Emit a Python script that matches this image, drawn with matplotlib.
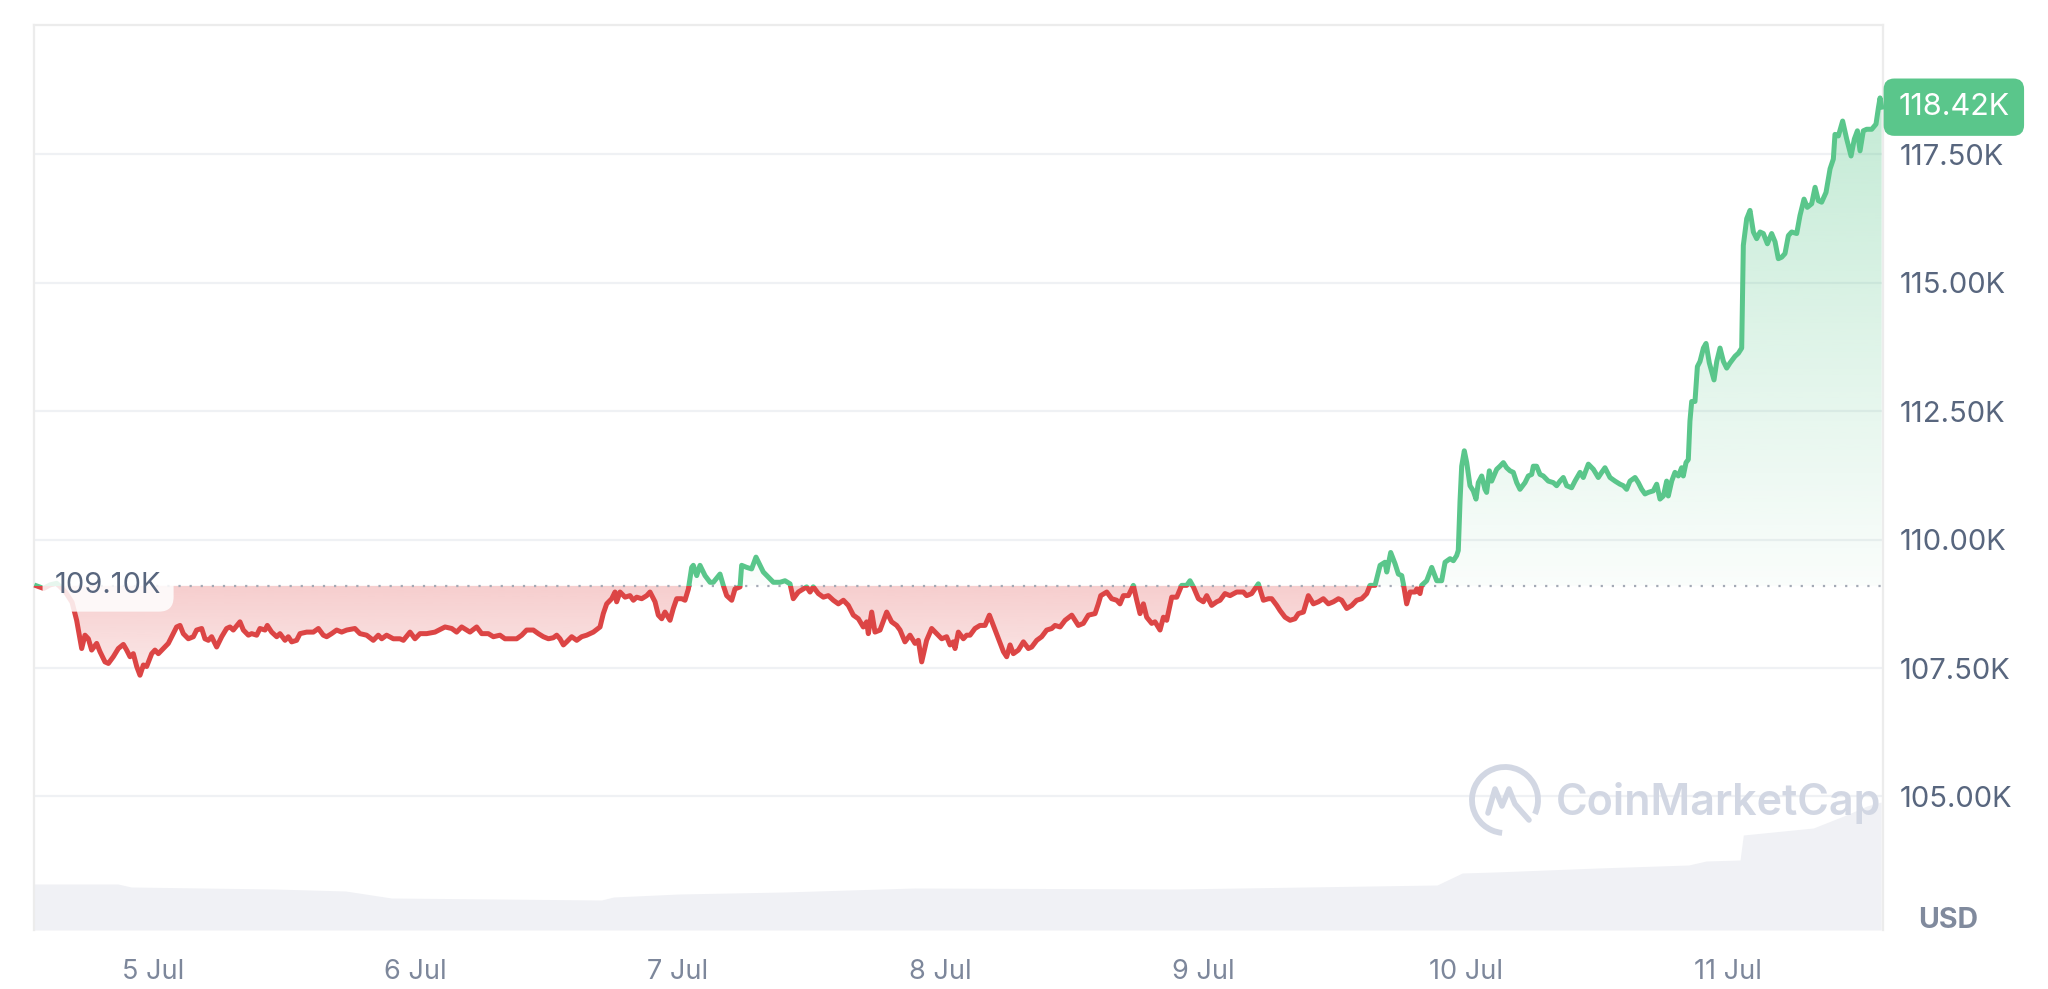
import numpy as np
import matplotlib.pyplot as plt
from matplotlib.colors import to_rgb
from matplotlib.patches import Rectangle, Arc
from matplotlib.path import Path
from matplotlib.transforms import Affine2D, blended_transform_factory

plt.rcParams['font.family'] = ['Inter', 'DejaVu Sans']

# --- data: hours after 5 Jul 00:00, BTC price in thousands USD ---
price_points = [
    (-10.64, 109.10), (-10.0, 109.05), (-9.4, 109.12), (-8.8, 109.15), (-8.0, 108.98),
    (-7.4, 108.78), (-6.98, 108.43), (-6.52, 107.88),
    # 5 Jul
    (-6.22, 108.14), (-5.91, 108.07), (-5.61, 107.85), (-5.15, 107.98), (-4.85, 107.82),
    (-4.39, 107.62), (-4.08, 107.59), (-3.63, 107.72), (-3.17, 107.88), (-2.71, 107.96),
    (-2.41, 107.85), (-2.10, 107.72), (-1.80, 107.78), (-1.49, 107.53), (-1.19, 107.36),
    (-0.88, 107.56), (-0.58, 107.53), (-0.12, 107.78), (0.18, 107.85), (0.49, 107.78),
    (0.94, 107.88), (1.40, 107.98), (1.71, 108.11), (2.16, 108.30), (2.47, 108.33),
    (2.77, 108.17), (3.23, 108.07), (3.69, 108.11), (3.99, 108.24), (4.45, 108.27),
    (4.75, 108.07), (5.06, 108.04), (5.36, 108.11), (5.82, 107.91), (6.28, 108.11),
    (6.73, 108.27), (7.04, 108.30), (7.34, 108.24), (7.95, 108.40), (8.26, 108.24),
    (8.72, 108.14), (9.02, 108.17), (9.48, 108.14), (9.78, 108.27), (10.24, 108.24),
    (10.45, 108.33), (10.85, 108.20), (11.31, 108.11), (11.61, 108.17), (12.07, 108.04),
    (12.37, 108.11), (12.68, 108.01), (13.13, 108.04), (13.44, 108.17), (14.05, 108.20),
    (14.66, 108.20), (15.12, 108.27), (15.57, 108.14), (15.88, 108.11), (16.33, 108.17),
    (16.79, 108.24), (17.25, 108.20), (17.71, 108.24), (18.46, 108.27), (18.92, 108.17),
    (19.53, 108.14), (20.14, 108.04), (20.60, 108.14), (20.91, 108.07), (21.36, 108.14),
    (21.97, 108.07), (22.58, 108.07), (22.89, 108.04), (23.50, 108.20), (23.95, 108.07),
    # 6 Jul
    (24.41, 108.17), (25.02, 108.17), (25.78, 108.20), (26.70, 108.30), (27.31, 108.27),
    (27.76, 108.20), (28.22, 108.30), (28.98, 108.20), (29.59, 108.30), (30.05, 108.17),
    (30.66, 108.17), (31.12, 108.11), (31.72, 108.14), (32.18, 108.07), (32.64, 108.07),
    (33.25, 108.07), (33.71, 108.14), (34.16, 108.24), (34.77, 108.24), (35.23, 108.17),
    (35.69, 108.11), (36.15, 108.07), (36.60, 108.09), (36.91, 108.14), (37.21, 108.07),
    (37.52, 107.95), (37.82, 108.01), (38.28, 108.11), (38.74, 108.04), (39.19, 108.11),
    (39.65, 108.14), (40.26, 108.20), (40.87, 108.30), (41.17, 108.56), (41.48, 108.75),
    (41.94, 108.85), (42.24, 108.98), (42.39, 108.79), (42.70, 108.98), (43.16, 108.88),
    (43.61, 108.91), (43.92, 108.82), (44.22, 108.88), (44.68, 108.85), (45.14, 108.91),
    (45.44, 108.98), (45.90, 108.79), (46.20, 108.53), (46.51, 108.46), (46.81, 108.59),
    (47.27, 108.43), (47.57, 108.66), (47.88, 108.85),
    # 7 Jul
    (48.34, 108.85), (48.64, 108.82), (48.95, 109.04), (49.25, 109.46), (49.40, 109.50),
    (49.71, 109.30), (50.01, 109.50), (50.47, 109.30), (50.93, 109.17), (51.23, 109.17),
    (51.84, 109.33), (52.14, 109.11), (52.45, 108.91), (52.91, 108.82), (53.21, 109.04),
    (53.67, 109.08), (53.82, 109.50), (54.28, 109.46), (54.73, 109.43), (55.13, 109.66),
    (55.50, 109.50), (55.80, 109.37), (56.26, 109.27), (56.72, 109.17), (57.33, 109.17),
    (57.78, 109.20), (58.24, 109.14), (58.54, 108.85), (59.00, 108.98), (59.46, 109.04),
    (59.76, 109.08), (60.07, 108.98), (60.37, 109.08), (60.83, 108.95), (61.29, 108.88),
    (61.74, 108.91), (62.20, 108.82), (62.66, 108.75), (63.12, 108.82), (63.57, 108.72),
    (64.03, 108.53), (64.49, 108.46), (64.94, 108.30), (65.25, 108.40), (65.40, 108.17),
    (65.71, 108.59), (66.01, 108.20), (66.47, 108.24), (67.08, 108.59), (67.53, 108.40),
    (67.99, 108.33), (68.30, 108.24), (68.75, 108.01), (69.21, 108.14), (69.67, 107.98),
    (69.97, 108.04), (70.28, 107.62), (70.73, 108.04), (71.19, 108.27),
    # 8 Jul
    (71.65, 108.17), (72.11, 108.07), (72.56, 108.11), (72.87, 107.95), (73.17, 108.01),
    (73.33, 107.88), (73.63, 108.20), (74.09, 108.07), (74.39, 108.14), (74.70, 108.14),
    (75.15, 108.27), (75.61, 108.33), (76.07, 108.33), (76.47, 108.53), (76.83, 108.33),
    (77.29, 108.07), (77.75, 107.82), (78.05, 107.72), (78.36, 107.95), (78.66, 107.78),
    (79.12, 107.85), (79.58, 108.01), (80.03, 107.88), (80.34, 107.91), (80.80, 108.04),
    (81.25, 108.11), (81.71, 108.24), (82.17, 108.27), (82.47, 108.33), (82.93, 108.30),
    (83.39, 108.43), (84.00, 108.53), (84.60, 108.33), (85.06, 108.37), (85.52, 108.53),
    (86.13, 108.56), (86.43, 108.75), (86.65, 108.91), (87.20, 108.98), (87.65, 108.85),
    (88.11, 108.82), (88.41, 108.75), (88.72, 108.91), (89.18, 108.91), (89.63, 109.11),
    (89.94, 108.82), (90.24, 108.56), (90.55, 108.75), (90.85, 108.49), (91.31, 108.37),
    (91.61, 108.40), (92.07, 108.24), (92.38, 108.49), (92.68, 108.43), (93.14, 108.88),
    (93.60, 108.88), (94.05, 109.11), (94.51, 109.11), (94.81, 109.20), (95.12, 109.08),
    (95.58, 108.85),
    # 9 Jul
    (96.03, 108.79), (96.34, 108.91), (96.79, 108.72), (97.25, 108.79), (97.56, 108.82),
    (98.01, 108.95), (98.47, 108.91), (99.08, 108.98), (99.69, 108.98), (99.99, 108.91),
    (100.45, 108.95), (101.06, 109.14), (101.52, 108.82), (101.98, 108.85), (102.28, 108.85),
    (102.74, 108.72), (103.04, 108.62), (103.50, 108.49), (103.96, 108.43), (104.41, 108.46),
    (104.72, 108.56), (105.18, 108.59), (105.63, 108.91), (106.09, 108.75), (106.55, 108.79),
    (107.00, 108.85), (107.46, 108.75), (107.92, 108.79), (108.38, 108.85), (108.68, 108.82),
    (109.14, 108.66), (109.60, 108.72), (110.05, 108.82), (110.51, 108.85), (110.97, 108.95),
    (111.27, 109.11), (111.73, 109.11), (112.19, 109.50), (112.64, 109.56), (112.80, 109.37),
    (113.16, 109.75), (113.56, 109.53), (113.86, 109.33), (114.17, 109.30), (114.32, 109.14),
    (114.62, 108.75), (114.93, 108.98), (115.39, 108.98), (115.54, 109.04), (115.84, 108.95),
    (115.99, 109.11), (116.45, 109.20), (116.91, 109.46), (117.37, 109.20), (117.82, 109.20),
    (118.13, 109.56), (118.59, 109.63), (118.89, 109.59), (119.19, 109.69), (119.34, 109.79),
    # 10 Jul
    (119.50, 110.76), (119.65, 111.43), (119.89, 111.73), (120.11, 111.50), (120.41, 111.05),
    (120.71, 110.95), (120.96, 110.79), (121.17, 111.11), (121.48, 111.24), (121.78, 110.98),
    (121.93, 110.92), (122.18, 111.34), (122.39, 111.14), (122.85, 111.37), (123.15, 111.43),
    (123.46, 111.50), (123.76, 111.40), (124.07, 111.34), (124.37, 111.31), (124.68, 111.11),
    (124.98, 110.98), (125.44, 111.11), (125.74, 111.24), (126.05, 111.27), (126.20, 111.43),
    (126.50, 111.43), (126.81, 111.27), (127.11, 111.24), (127.57, 111.14), (128.03, 111.11),
    (128.33, 111.05), (128.64, 111.14), (128.94, 111.21), (129.25, 111.05), (129.70, 111.01),
    (130.01, 111.14), (130.47, 111.31), (130.77, 111.21), (131.23, 111.47), (131.69, 111.37),
    (132.14, 111.21), (132.45, 111.31), (132.75, 111.40), (133.21, 111.21), (133.67, 111.14),
    (134.12, 111.08), (134.43, 111.05), (134.73, 110.98), (135.04, 111.14), (135.50, 111.21),
    (135.80, 111.11), (136.11, 110.98), (136.41, 110.89), (136.71, 110.92), (137.17, 110.95),
    (137.48, 111.08), (137.78, 110.79), (138.09, 110.85), (138.39, 111.14), (138.54, 110.85),
    (138.85, 111.14), (139.15, 111.31), (139.46, 111.24), (139.76, 111.40), (139.91, 111.24),
    (140.16, 111.50), (140.37, 111.56), (140.52, 112.31), (140.68, 112.69), (140.98, 112.69),
    (141.20, 113.37), (141.44, 113.47), (141.75, 113.73), (141.99, 113.82), (142.29, 113.44),
    (142.72, 113.11), (142.97, 113.47), (143.27, 113.73), (143.58, 113.47), (143.88, 113.34),
    # 11 Jul
    (144.18, 113.44), (144.64, 113.57), (144.95, 113.63), (145.25, 113.73), (145.40, 115.73),
    (145.71, 116.25), (146.01, 116.41), (146.32, 115.99), (146.62, 115.86), (146.93, 115.99),
    (147.23, 115.96), (147.60, 115.76), (147.99, 115.96), (148.30, 115.80), (148.60, 115.47),
    (148.91, 115.50), (149.21, 115.57), (149.52, 115.92), (149.82, 115.99), (150.28, 115.96),
    (150.58, 116.31), (150.95, 116.63), (151.25, 116.47), (151.65, 116.54), (151.96, 116.86),
    (152.26, 116.60), (152.56, 116.57), (152.96, 116.76), (153.33, 117.22), (153.63, 117.41),
    (153.78, 117.89), (154.09, 117.86), (154.48, 118.15), (154.85, 117.80), (155.25, 117.47),
    (155.55, 117.80), (155.83, 117.96), (156.07, 117.57), (156.37, 117.96), (156.68, 117.99),
    (157.14, 117.99), (157.53, 118.09), (157.75, 118.41), (157.90, 118.60), (158.05, 118.42),
]

# 24h volume, billions USD
volume_points = [
    (-10.88, 36.8), (-3.2, 36.8), (-2.0, 34.4), (11.1, 32.8), (17.6, 31.2), (21.8, 25.6),
    (41.0, 24.0), (42.1, 26.4), (48.1, 28.8), (57.7, 30.4), (69.6, 33.6), (93.5, 32.8),
    (117.4, 36.0), (119.7, 45.6), (122.7, 46.4), (132.1, 49.6), (140.4, 52.0), (142.0, 55.2),
    (145.1, 56.0), (145.4, 76.0), (151.8, 81.6), (154.8, 92.0), (156.7, 99.2), (158.0, 102.4),
]

open_price = 109.10
last_price = 118.42
day_ticks = [0, 24, 48, 72, 96, 120, 144]
day_labels = ["5 Jul", "6 Jul", "7 Jul", "8 Jul", "9 Jul", "10 Jul", "11 Jul"]
price_ticks = [105.0, 107.5, 110.0, 112.5, 115.0, 117.5]

GREEN = "#5ac68b"
RED = "#dc4545"
GRID = "#eff1f4"

h = np.array([t for t, _ in price_points])
p = np.array([v for _, v in price_points])
vh = np.array([t for t, _ in volume_points])
vv = np.array([v for _, v in volume_points])


def gradient_fill(ax, color, y0, y1, a0, a1, clip_coll):
    """Vertical alpha gradient from y0 (alpha a0) to y1 (alpha a1), clipped to a fill."""
    g = np.zeros((256, 1, 4))
    g[..., :3] = to_rgb(color)
    g[:, 0, 3] = np.linspace(a0, a1, 256)
    lo, hi = min(y0, y1), max(y0, y1)
    if y0 > y1:
        g = g[::-1]
    im = ax.imshow(g, extent=[h.min(), h.max(), lo, hi], origin="lower",
                   aspect="auto", zorder=2, interpolation="bilinear")
    im.set_clip_path(Path.make_compound_path(*clip_coll.get_paths()), ax.transData)
    return im


fig = plt.figure(figsize=(20.48, 9.89), dpi=100)
ax = fig.add_axes([34 / 2048, 59 / 989, 1849 / 2048, 905 / 989])
ax2 = ax.twinx()
ax.set_zorder(2)
ax.patch.set_visible(False)
ax2.set_zorder(1)

# --- volume ---
ax2.fill_between(vh, vv, 0, color="#f0f1f5", lw=0)
ax2.set_ylim(0, 724)
ax2.set_yticks([])
for s in ax2.spines.values():
    s.set_visible(False)

# --- fills ---
red_fill = ax.fill_between(h, p, open_price, where=p <= open_price, interpolate=True,
                           color="none", lw=0, zorder=2)
green_fill = ax.fill_between(h, p, open_price, where=p >= open_price, interpolate=True,
                             color="none", lw=0, zorder=2)
gradient_fill(ax, "#e35a5a", open_price, p.min(), 0.30, 0.14, red_fill)
gradient_fill(ax, GREEN, open_price, p.max(), 0.03, 0.36, green_fill)

# --- baseline ---
ax.axhline(open_price, color="#a3a9b5", lw=1.6, linestyle=(0, (1, 4)), zorder=3)

# --- price line, green above the open, red below ---
line_g, = ax.plot(h, p, color=GREEN, lw=3.6, zorder=4, solid_joinstyle="round")
line_g.set_clip_path(Rectangle((-50, open_price), 300, 50, transform=ax.transData))
line_r, = ax.plot(h, p, color=RED, lw=3.6, zorder=4, solid_joinstyle="round")
line_r.set_clip_path(Rectangle((-50, open_price - 50), 300, 50, transform=ax.transData))

ax.set_xlim(-10.88, 158.17)
ax.set_ylim(102.40, 120.02)

# --- axes styling ---
ax.set_xticks(day_ticks, day_labels)
ax.tick_params(axis="x", length=0, pad=21, labelsize=19.5, labelcolor="#7d879b")
ax.yaxis.tick_right()
ax.set_yticks(price_ticks, [f"{v:.2f}K" for v in price_ticks])
ax.tick_params(axis="y", length=0, pad=12, labelsize=21, labelcolor="#58667e")
ax.grid(axis="y", color=GRID, lw=1.6)
ax.set_axisbelow(True)
for side in ["left", "right", "top"]:
    ax.spines[side].set_color("#ececec")
    ax.spines[side].set_linewidth(1.6)
ax.spines["bottom"].set_visible(False)

# --- price tags ---
blend = blended_transform_factory(ax.transAxes, ax.transData)
ax.annotate(f"{last_price:.2f}K", xy=(1, last_price), xycoords=blend,
            xytext=(11, 0), textcoords="offset points", ha="left", va="center",
            fontsize=22, color="white", annotation_clip=False, zorder=6,
            bbox=dict(boxstyle="round,pad=0.48,rounding_size=0.35", fc=GREEN, ec="none"))
ax.annotate(f"{open_price:.2f}K", xy=(0, open_price), xycoords=blend,
            xytext=(15, 0), textcoords="offset points", ha="left", va="center",
            fontsize=21, color="#58667e", annotation_clip=False, zorder=6,
            bbox=dict(boxstyle="round,pad=0.42,rounding_size=0.5", fc="white",
                      ec="none", alpha=0.86))

fig.text(1948 / 2048, 1 - 921 / 989, "USD", ha="center", va="center",
         fontsize=20.5, fontweight="bold", color="#808a9d")

# --- watermark ---
wm = "#d2d7e3"
logo = Affine2D().scale(0.01).translate(15.05, 1.89) + fig.dpi_scale_trans
ax.add_artist(Arc((0, 0), 66, 66, theta1=-25, theta2=265, transform=logo,
                  color=wm, lw=4.2, zorder=5))
ax.plot([-17, -10, -3, 4, 10, 16, 24], [-13, 11, -6, 11, -4, -11, -20],
        transform=logo, color=wm, lw=4.0, solid_joinstyle="round",
        solid_capstyle="round", zorder=5)
ax.text((1556 - 34) / 1849, (930 - 803) / 905, "CoinMarketCap", transform=ax.transAxes,
        ha="left", va="center", fontsize=31, fontweight="semibold", color=wm, zorder=5)

fig.savefig("out.png", dpi=100)
